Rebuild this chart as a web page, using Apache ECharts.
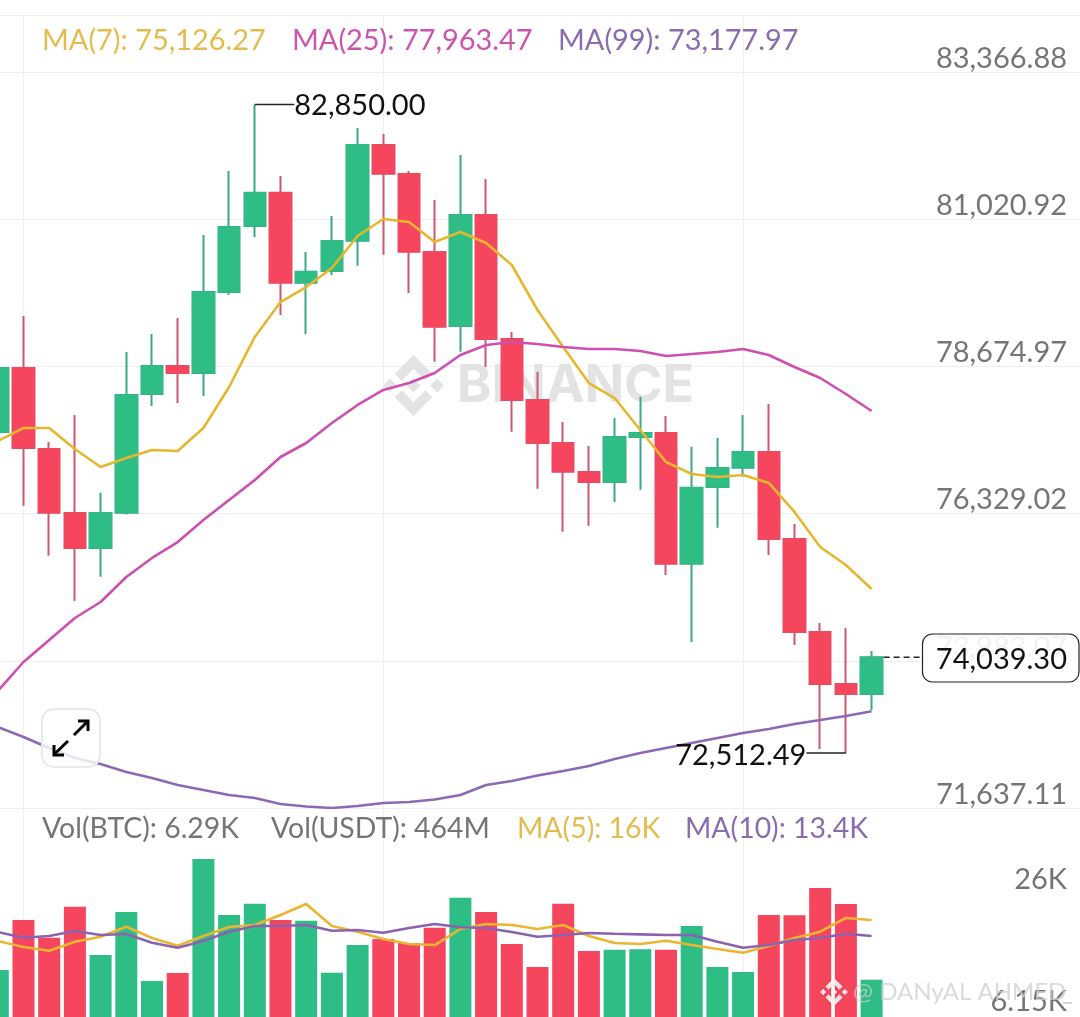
<!DOCTYPE html>
<html><head><meta charset="utf-8">
<style>html,body{margin:0;padding:0;background:#fff}#c{width:1080px;height:1017px}</style>
<script src="https://cdn.jsdelivr.net/npm/echarts@6/dist/echarts.min.js"></script>
</head><body><div id="c"></div>
<script>
const FONT = 'Lato';
const opens  = [77630,78650,77359,76339,75781,76343,78235,78681,78570,79861,80913,81443,80009,80195,80678,82203,81741,80498,79319,81088,79112,78140,77454,76992,76833,77550,77614,75531,76753,77061,77311,75924,74442,73613,73454];
const closes = [78650,77375,76343,75781,76339,78219,78681,78570,79861,80897,81443,80009,80184,80674,82203,81746,80503,79308,81088,79112,78140,77454,76997,76833,77550,77614,75531,76742,77056,77311,75924,74442,73613,73454,74039.30];
const highs  = [78777,79478,77470,77900,76662,78905,79191,79446,80769,81789,82850,81709,80498,81072,82474,82379,81789,81327,82044,81662,79223,78591,77789,77406,77853,78192,77885,77395,77534,77900,78076,76163,74586,74506,74139];
const lows   = [77502,76455,75658,74936,75323,76315,78044,78092,78203,79813,80737,79494,79191,80132,80280,80455,79845,78750,78909,78665,77634,76726,76041,76136,76514,76710,75351,74283,76104,76917,75669,74235,72578,72512.49,73199];
const ma7  = [77486,77693,77693,77359,77072,77215,77343,77327,77693,78347,79144,79701,79940,80243,80753,81024,80976,80658,80817,80642,80291,79574,78984,78410,78171,77661,77151,76960,76912,76944,76817,76355,75797,75510,75126.27];
const ma25 = [73502,73964,74315,74665,74920,75319,75622,75876,76227,76546,76865,77231,77454,77773,78060,78299,78410,78570,78857,79016,79064,79032,78984,78952,78952,78920,78841,78873,78905,78952,78857,78665,78490,78235,77963.47];
const ma99 = [72928,72769,72593,72434,72338,72211,72115,72004,71924,71844,71797,71701,71661,71637,71669,71717,71733,71773,71844,72004,72068,72155,72227,72307,72418,72514,72593,72673,72753,72833,72896,72976,73040,73103,73177.97];
const volumes = [7870,16000,13120,18160,10310,17300,6080,7380,25920,16810,18650,16000,15890,7430,11930,12910,12260,14750,19630,17300,12100,8360,18650,10960,11170,11240,11170,15020,8360,7540,16810,16760,21200,18600,6290];
const volMa5  = [12590,11610,11010,12470,13280,14910,13070,11820,13400,14860,15190,16810,18600,15020,14100,12910,12100,11930,14540,15350,15190,14540,15190,13400,12260,12100,12630,11930,11280,10680,11770,13070,14100,16330,16000];
const volMa10 = [14050,13120,13400,14210,13560,13720,12310,11500,12590,14100,15020,15020,15190,14260,14370,13930,14700,15350,14810,14700,14050,13280,13560,13890,13770,13670,13560,13560,12470,11500,11930,12750,13070,13770,13400];
const categories = Array.from({length:43},(_,i)=>String(i+1));
const priceTicks = [71637.11,73983.07,76329.02,78674.97,81020.92,83366.88];
const priceTop = 84264;
const volTicks = [6150,26000];
const volLabels = {6150:'6.15K',26000:'26K'};
const priceHeader = [['MA(7): 75,126.27',42,'#E3BC4E'],['MA(25): 77,963.47',292,'#CB55AE'],['MA(99): 73,177.97',558,'#8A6DAE']];
const volHeader = [['Vol(BTC): 6.29K',42,'#757575'],['Vol(USDT): 464M',271,'#757575'],['MA(5): 16K',517,'#E3BC4E'],['MA(10): 13.4K',685,'#8A6DAE']];
const peak = {index:10,value:82850,text:'82,850.00'};
const trough = {index:33,value:72512.49,text:'72,512.49'};
const lastPrice = {index:34,value:74039.30,text:'74,039.30'};

const GREEN='#2EBD85',RED='#F6465D',GREENW='#3BA888',REDW='#CC5872';
const GRID='#EFEFEF',LABEL='#757575';
const LOGO='M38.73 53.2l24.59-24.58 24.6 24.6 14.3-14.31L63.32 0 24.42 38.9l14.31 14.3zM0 63.31l14.3-14.31 14.31 14.31-14.31 14.3zM38.73 73.41l24.59 24.59 24.6-24.6 14.31 14.29-.01.01L63.32 126.61 24.43 87.72l-.02-.02zM97.99 63.31l14.31-14.31 14.31 14.3-14.31 14.32zM77.83 63.3L63.32 48.78 52.59 59.51l-1.24 1.23-2.54 2.54 14.51 14.52 14.51-14.51z';
const bars = opens.map((o,i)=>[o,closes[i],lows[i],highs[i]]);
const bodies = opens.map((o,i)=>[o,closes[i],Math.min(o,closes[i]),Math.max(o,closes[i])]);
const volData = volumes.map((v,i)=>({value:v,itemStyle:{color:closes[i]>=opens[i]?GREEN:RED}}));
const vertical = {show:true,interval:(i)=>i===1||i===15||i===29,alignWithLabel:true,lineStyle:{color:GRID,width:1}};
const label = (t,x,y,fill,size)=>({type:'text',z:50,style:{text:t,x,y,fill,font:`${size}px ${FONT}`,textVerticalAlign:'middle',verticalAlign:'middle'}});
const line = (t,fill)=>({type:'line',name:t,data:fill.data,xAxisIndex:fill.x,yAxisIndex:fill.x,showSymbol:false,symbol:'none',smooth:false,z:5,lineStyle:{color:fill.color,width:2.6},animation:false});
const logoSeries = (z,children)=>({type:'custom',name:'watermark',xAxisIndex:0,yAxisIndex:0,z,clip:false,silent:true,data:[[0,priceTicks[0]]],encode:{x:0,y:1},renderItem:()=>({type:'group',children})});

const opt = {
  animation:false,
  backgroundColor:'#fff',
  grid:[
    {left:-15.05,width:1105.1,top:15.7,height:792.3,outerBoundsMode:'none'},
    {left:-15.05,width:1105.1,top:808,height:210.4,outerBoundsMode:'none'}
  ],
  xAxis:[
    {type:'category',gridIndex:0,data:categories,boundaryGap:true,axisLine:{show:false},axisTick:{show:false},axisLabel:{show:false},splitLine:vertical},
    {type:'category',gridIndex:1,data:categories,boundaryGap:true,axisLine:{show:false},axisTick:{show:false},axisLabel:{show:false},splitLine:vertical}
  ],
  yAxis:[
    {type:'value',gridIndex:0,position:'right',min:priceTicks[0],max:priceTop,scale:true,
     axisLine:{show:false},axisTick:{show:false,customValues:priceTicks.concat([priceTop])},
     splitLine:{show:true,lineStyle:{color:GRID,width:1}},
     axisLabel:{inside:true,margin:23,customValues:priceTicks,color:LABEL,fontFamily:FONT,fontSize:29,verticalAlign:'bottom',lineHeight:27,
       formatter:v=>v.toLocaleString('en-US',{minimumFractionDigits:2,maximumFractionDigits:2})}},
    {type:'value',gridIndex:1,position:'right',min:0,max:34211,
     axisLine:{show:false},axisTick:{show:false,customValues:volTicks},splitLine:{show:false},
     axisLabel:{inside:true,margin:23,customValues:volTicks,color:LABEL,fontFamily:FONT,fontSize:29,verticalAlign:'top',padding:[7,0,0,0],
       formatter:v=>volLabels[v]}}
  ],
  series:[
    logoSeries(1,[
      {type:'path',shape:{pathData:LOGO,x:383,y:355,width:61,height:61,layout:'cover'},style:{fill:'#E3E3E3'}},
      {type:'text',style:{text:'BINANCE',x:457,y:386,fill:'#E3E3E3',font:'bold 52px Inter',verticalAlign:'middle',textVerticalAlign:'middle'}}
    ]),
    {type:'candlestick',name:'wicks',xAxisIndex:0,yAxisIndex:0,data:bars,barWidth:22,z:3,
     itemStyle:{color:GREEN,color0:RED,borderColor:GREENW,borderColor0:REDW,borderWidth:2}},
    {type:'candlestick',name:'BTC/USDT',xAxisIndex:0,yAxisIndex:0,data:bodies,barWidth:22,z:4,
     itemStyle:{color:GREEN,color0:RED,borderColor:GREEN,borderColor0:RED,borderWidth:1}},
    line('MA(7)',{data:ma7,x:0,color:'#E6B72E'}),
    line('MA(25)',{data:ma25,x:0,color:'#CF4FB0'}),
    line('MA(99)',{data:ma99,x:0,color:'#8C69B5'}),
    {type:'bar',name:'Volume',xAxisIndex:1,yAxisIndex:1,data:volData,barWidth:22,z:3},
    line('Vol MA(5)',{data:volMa5,x:1,color:'#EBB531'}),
    line('Vol MA(10)',{data:volMa10,x:1,color:'#8A62B0'}),
    {type:'custom',name:'annotations',xAxisIndex:0,yAxisIndex:0,z:20,clip:false,
     data:[[peak.index,peak.value,1,peak.text],[trough.index,trough.value,-1,trough.text],[lastPrice.index,lastPrice.value,0,lastPrice.text]],
     encode:{x:0,y:1},
     renderItem:(p,api)=>{
       const pt=api.coord([api.value(0),api.value(1)]);
       const dir=api.value(2),t=[peak,trough,lastPrice][p.dataIndex].text;
       const s={fill:'#111',font:`29px ${FONT}`,text:t,verticalAlign:'middle',textVerticalAlign:'middle'};
       if(dir!==0){
         const end=pt[0]+dir*39.5;
         return {type:'group',children:[
           {type:'line',shape:{x1:pt[0],y1:pt[1],x2:end,y2:pt[1]},style:{stroke:'#222',lineWidth:1.5}},
           {type:'text',style:{...s,x:end,y:pt[1]+(dir>0?1.5:2.5),align:dir>0?'left':'right',textAlign:dir>0?'left':'right'}}
         ]};
       }
       return {type:'group',children:[
         {type:'line',shape:{x1:pt[0]+12,y1:pt[1],x2:923,y2:pt[1]},style:{stroke:'#222',lineWidth:1.4,lineDash:[6,4]}},
         {type:'rect',shape:{x:922.5,y:634,width:156.5,height:48,r:10},style:{fill:'rgba(255,255,255,0.9)',stroke:'#222',lineWidth:1.2}},
         {type:'text',style:{...s,x:1067,y:pt[1]+2.5,align:'right',textAlign:'right'}}
       ]};
     }},
    logoSeries(30,[
      {type:'path',shape:{pathData:LOGO,x:820,y:978,width:28,height:28,layout:'cover'},style:{fill:'rgba(255,255,255,0.85)',shadowBlur:2,shadowColor:'rgba(0,0,0,0.25)'}},
      {type:'text',style:{text:'@ DANyAL AHMED',x:853,y:992,fill:'rgba(205,205,205,0.75)',font:'24px '+FONT,verticalAlign:'middle',textVerticalAlign:'middle'}}
    ])
  ],
  graphic:[
    ...priceHeader.map(h=>label(h[0],h[1],41,h[2],28.9)),
    ...volHeader.map(h=>label(h[0],h[1],829,h[2],28.4)),
    {type:'rect',z:30,shape:{x:42,y:709,width:58,height:58,r:12},style:{fill:'rgba(255,255,255,0.8)',stroke:'#E9E9ED',lineWidth:2}},
    {type:'polyline',z:31,shape:{points:[[53.5,755],[68,741]]},style:{stroke:'#000',lineWidth:3,fill:null}},
    {type:'polyline',z:31,shape:{points:[[54,745],[54,755],[64,755]]},style:{stroke:'#000',lineWidth:3,fill:null}},
    {type:'polyline',z:31,shape:{points:[[74,735],[88,721]]},style:{stroke:'#000',lineWidth:3,fill:null}},
    {type:'polyline',z:31,shape:{points:[[78,721],[88,721],[88,731]]},style:{stroke:'#000',lineWidth:3,fill:null}},
    {type:'polyline',z:31,shape:{points:[[1063,1003],[1072,1003]]},style:{stroke:'#AAAAAA',lineWidth:1,fill:null}}
  ]
};
echarts.init(document.getElementById('c'),null,{renderer:'canvas'}).setOption(opt);
</script></body></html>
